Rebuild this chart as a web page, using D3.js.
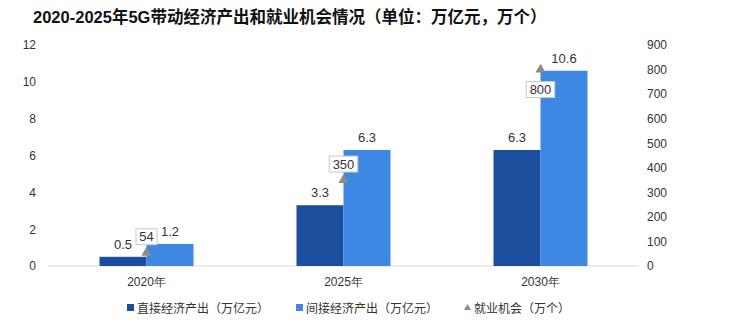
<!DOCTYPE html>
<html><head><meta charset="utf-8">
<script src="https://cdn.jsdelivr.net/npm/d3@7"></script>
<style>body{margin:0;background:#fff;}svg{display:block;font-family:"Liberation Sans","Noto Sans CJK SC",sans-serif;}</style>
</head><body>
<svg id="c" width="740" height="335"></svg>
<script>
const categories = ["2020年","2025年","2030年"];
const directOutput = [0.5, 3.3, 6.3];
const indirectOutput = [1.2, 6.3, 10.6];
const jobs = [54, 350, 800];
const leftTicks = [0,2,4,6,8,10,12];
const rightTicks = [0,100,200,300,400,500,600,700,800,900];
const seriesNames = ["直接经济产出（万亿元）","间接经济产出（万亿元）","就业机会（万个）"];
const title = "2020-2025年5G带动经济产出和就业机会情况（单位：万亿元，万个）";

const svg = d3.select("#c");
const colors = ["#1C4E9E", "#3E87E2", "#8C8C8C"];
const x = d3.scaleBand().domain(categories).range([48, 639]).paddingInner(0).paddingOuter(0);
const yL = d3.scaleLinear().domain([0,12]).range([266, 45]);
const yR = d3.scaleLinear().domain([0,900]).range([266, 45]);
const barW = 47;

svg.append("text").attr("x",33).attr("y",23).attr("font-size",16.5).attr("font-weight","bold")
  .attr("fill","#111").text(title);

// left axis
const gL = svg.append("g").attr("transform","translate(36,0)")
  .call(d3.axisLeft(yL).tickValues(leftTicks).tickSize(0).tickPadding(0));
gL.select(".domain").remove();
gL.selectAll("text").attr("font-size",12).attr("fill","#333").attr("font-family","Liberation Sans, sans-serif");

// right axis
const gR = svg.append("g").attr("transform","translate(647,0)")
  .call(d3.axisRight(yR).tickValues(rightTicks).tickSize(0).tickPadding(0));
gR.select(".domain").remove();
gR.selectAll("text").attr("font-size",12).attr("fill","#333").attr("font-family","Liberation Sans, sans-serif");

// baseline
svg.append("line").attr("x1",48).attr("x2",639).attr("y1",yL(0)).attr("y2",yL(0))
  .attr("stroke","#d9d9d9").attr("stroke-width",1);

// x axis labels
const gX = svg.append("g").attr("transform",`translate(0,${yL(0)})`)
  .call(d3.axisBottom(x).tickSize(0).tickPadding(11));
gX.select(".domain").remove();
gX.selectAll("text").attr("font-size",12).attr("fill","#333");

const cx = c => x(c) + x.bandwidth()/2;

// bars
svg.selectAll(".bd").data(categories).enter().append("rect")
  .attr("x", c => cx(c) - barW).attr("width", barW)
  .attr("y", (c,i) => yL(directOutput[i])).attr("height", (c,i) => yL(0) - yL(directOutput[i]))
  .attr("fill", colors[0]);
svg.selectAll(".bi").data(categories).enter().append("rect")
  .attr("x", c => cx(c)).attr("width", barW)
  .attr("y", (c,i) => yL(indirectOutput[i])).attr("height", (c,i) => yL(0) - yL(indirectOutput[i]))
  .attr("fill", colors[1]);

// bar labels
svg.selectAll(".ld").data(categories).enter().append("text")
  .attr("x", c => cx(c) - barW/2).attr("y", (c,i) => yL(directOutput[i]) - 8)
  .attr("text-anchor","middle").attr("font-size",13).attr("fill","#333")
  .text((c,i) => directOutput[i]);
svg.selectAll(".li").data(categories).enter().append("text")
  .attr("x", c => cx(c) + barW/2).attr("y", (c,i) => yL(indirectOutput[i]) - 8)
  .attr("text-anchor","middle").attr("font-size",13).attr("fill","#333")
  .text((c,i) => indirectOutput[i]);

// job markers
const tri = d3.symbol().type(d3.symbolTriangle).size(45);
svg.selectAll(".tm").data(categories).enter().append("path")
  .attr("d", tri).attr("transform", (c,i) => `translate(${cx(c)},${yR(jobs[i])})`)
  .attr("fill", colors[2]);

// job labels with boxes
categories.forEach((c,i) => {
  const below = i === 2;
  const by = below ? yR(jobs[i]) + 12 : yR(jobs[i]) - 24;
  const w = String(jobs[i]).length * 7.5 + 6, h = 16;
  const g = svg.append("g");
  g.append("rect").attr("x", cx(c) - w/2).attr("y", by).attr("width", w).attr("height", h)
    .attr("fill","#fff").attr("stroke","#c8c8c8").attr("stroke-width",1);
  g.append("text").attr("x", cx(c)).attr("y", by + 12.5).attr("text-anchor","middle")
    .attr("font-size",13).attr("fill","#333").text(jobs[i]);
});

// legend
const legendX = [127, 296, 464];
seriesNames.forEach((n,i) => {
  const g = svg.append("g").attr("transform",`translate(${legendX[i]},308)`);
  if (i < 2) g.append("rect").attr("x",0).attr("y",-4).attr("width",7).attr("height",7).attr("fill",colors[i]);
  else g.append("path").attr("d", d3.symbol().type(d3.symbolTriangle).size(22)).attr("transform","translate(3.5,0)").attr("fill",colors[2]);
  g.append("text").attr("x",10).attr("y",4.5).attr("font-size",12).attr("fill","#333").text(n);
});
</script>
</body></html>
